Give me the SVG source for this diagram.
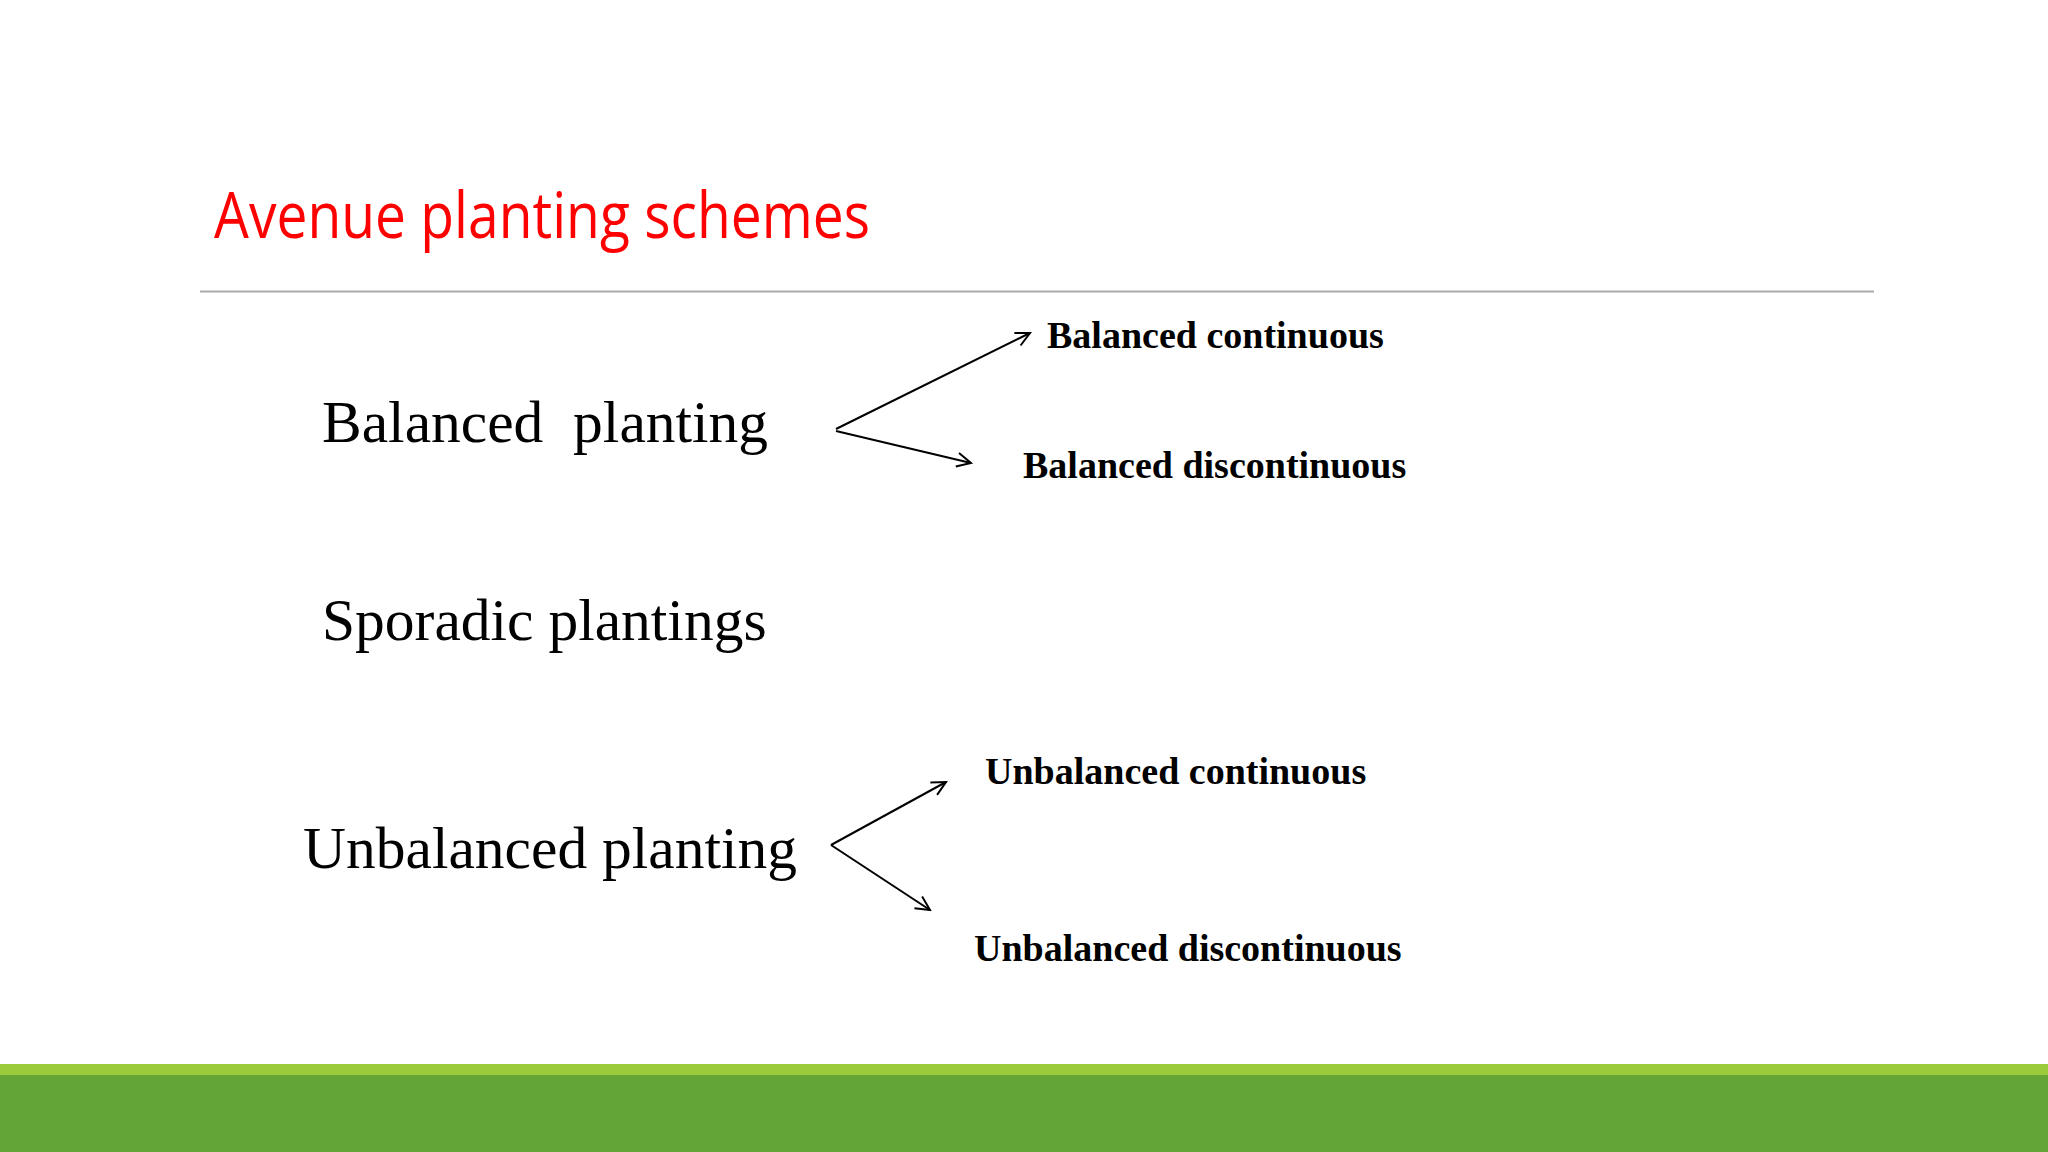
<svg xmlns="http://www.w3.org/2000/svg" width="2048" height="1152" viewBox="0 0 2048 1152">
  <style>
    .title { font-family: "Open Sans", "Liberation Sans", sans-serif; font-size: 64px; font-weight: 500; fill: #FF0000; }
    .main { font-family: "Liberation Serif", "Times New Roman", serif; font-size: 59.5px; fill: #000; white-space: pre; }
    .sub { font-family: "Liberation Serif", "Times New Roman", serif; font-size: 38px; font-weight: bold; fill: #000; }
    .conn { stroke: #000; stroke-width: 2; fill: none; marker-end: url(#arrow); }
  </style>
  <defs>
    <marker id="arrow" markerUnits="userSpaceOnUse" markerWidth="20" markerHeight="20" viewBox="0 0 20 20" refX="18" refY="10" orient="auto">
      <path d="M4,3 L18,10 L4,17" fill="none" stroke="#000" stroke-width="2"/>
    </marker>
  </defs>
  <rect x="0" y="0" width="2048" height="1152" fill="#FFFFFF"/>

  <g id="title">
    <text class="title" x="214" y="238" textLength="656" lengthAdjust="spacingAndGlyphs">Avenue planting schemes</text>
  </g>
  <line id="rule" x1="200" y1="291.5" x2="1874" y2="291.5" stroke="#A9A9A9" stroke-width="2"/>

  <g id="balanced-planting">
    <text class="main" x="322" y="442" xml:space="preserve">Balanced  planting</text>
  </g>
  <g id="balanced-continuous">
    <text class="sub" x="1047" y="348">Balanced continuous</text>
  </g>
  <g id="balanced-discontinuous">
    <text class="sub" x="1023" y="478">Balanced discontinuous</text>
  </g>
  <g id="sporadic-plantings">
    <text class="main" x="322" y="640">Sporadic plantings</text>
  </g>
  <g id="unbalanced-planting">
    <text class="main" x="303" y="868">Unbalanced planting</text>
  </g>
  <g id="unbalanced-continuous">
    <text class="sub" x="985" y="784">Unbalanced continuous</text>
  </g>
  <g id="unbalanced-discontinuous">
    <text class="sub" x="974" y="961">Unbalanced discontinuous</text>
  </g>

  <g id="connectors">
    <line class="conn" x1="836" y1="429" x2="1030" y2="333"/>
    <line class="conn" x1="836" y1="431" x2="971" y2="463"/>
    <line class="conn" x1="831" y1="845" x2="946" y2="782"/>
    <line class="conn" x1="831" y1="845" x2="930" y2="910"/>
  </g>

  <g id="footer">
    <rect x="0" y="1064" width="2048" height="11" fill="#9BCB3B"/>
    <rect x="0" y="1075" width="2048" height="77" fill="#63A537"/>
  </g>
</svg>
